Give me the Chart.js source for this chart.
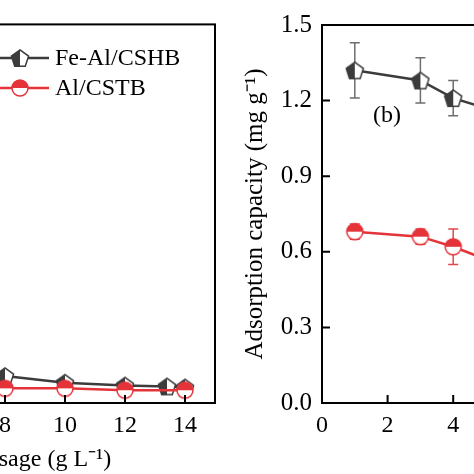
<!DOCTYPE html>
<html lang="en">
<head>
<meta charset="UTF-8" />
<title>Adsorption capacity</title>
<style>
  html, body { margin: 0; padding: 0; background: #fff; overflow: hidden; }
  #wrap { position: relative; width: 474px; height: 474px; overflow: hidden; background: #fff; }
  #boxA { position: absolute; left: -320px; top: 0; width: 560px; height: 474px; }
  #boxB { position: absolute; left: 240px; top: 0; width: 440px; height: 474px; }
</style>
</head>
<body>
<div id="wrap">
  <div id="boxA"><canvas id="chartA"></canvas></div>
  <div id="boxB"><canvas id="chartB"></canvas></div>
</div>
<script src="https://cdn.jsdelivr.net/npm/chart.js"></script>
<script>
// series names
const nameFe = 'Fe-Al/CSHB';
const nameAl = 'Al/CSTB';

// panel (a): capacity vs adsorbent dosage
const dosageFe = [1, 2, 4, 6, 8, 10, 12, 13.4, 14];
const capFeA   = [6.1, 3.6, 1.7, 0.95, 0.57, 0.43, 0.37, 0.35, 0.33];
const errFeA   = [0.3, 0.2, 0.1, 0.06, 0.05, 0.05, 0.05, 0.06, 0.05];
const dosageAl = [1, 2, 4, 6, 8, 10, 12, 14];
const capAlA   = [3.4, 1.8, 0.8, 0.45, 0.31, 0.31, 0.27, 0.27];
const errAlA   = [0.2, 0.1, 0.06, 0.05, 0.1, 0.12, 0.12, 0.1];
const ticksXA  = [0, 2, 4, 6, 8, 10, 12, 14];

// panel (b)
const xB      = [1, 3, 4, 6, 8, 10];
const capFeB  = [1.32, 1.28, 1.21, 1.13, 1.06, 1.0];
const errFeB  = [0.11, 0.09, 0.07, 0.05, 0.05, 0.05];
const capAlB  = [0.68, 0.66, 0.62, 0.52, 0.46, 0.42];
const errAlB  = [0.03, 0.03, 0.07, 0.04, 0.04, 0.04];
const ticksXB = [0, 2, 4, 6, 8, 10];
const ticksYB = [0, 0.3, 0.6, 0.9, 1.2, 1.5];

const serif = '"Liberation Serif", "Times New Roman", serif';
Chart.defaults.font.family = serif;
Chart.defaults.color = '#000';

const grayLine = '#3c3c3c';
const redLine = '#e5333a';

// half filled markers
function pentagonMark(fill, edge) {
  const c = document.createElement('canvas');
  c.width = 20; c.height = 20;
  const g = c.getContext('2d');
  const r = 9, cx = 10, cy = 10.9;
  g.beginPath();
  for (let i = 0; i < 5; i++) {
    const a = -Math.PI / 2 + i * 2 * Math.PI / 5;
    const px = cx + r * Math.cos(a), py = cy + r * Math.sin(a);
    if (i) g.lineTo(px, py); else g.moveTo(px, py);
  }
  g.closePath();
  g.fillStyle = '#fff';
  g.fill();
  g.save();
  g.clip();
  g.fillStyle = fill;
  g.fillRect(0, 0, cx, 20);
  g.restore();
  g.lineWidth = 1.5;
  g.strokeStyle = edge;
  g.stroke();
  return c;
}

function circleMark(fill, edge) {
  const c = document.createElement('canvas');
  c.width = 20; c.height = 20;
  const g = c.getContext('2d');
  g.beginPath();
  g.arc(10, 10, 8, 0, Math.PI * 2);
  g.fillStyle = '#fff';
  g.fill();
  g.save();
  g.clip();
  g.fillStyle = fill;
  g.fillRect(0, 0, 20, 10);
  g.restore();
  g.lineWidth = 1.5;
  g.strokeStyle = edge;
  g.stroke();
  return c;
}

const markFe = pentagonMark(grayLine, grayLine);
const markAl = circleMark(redLine, redLine);

function pts(xs, ys) {
  return xs.map((x, i) => ({ x: x, y: ys[i] }));
}

function makeSet(label, xs, ys, errs, color, errColor, mark, order) {
  return {
    label: label,
    data: pts(xs, ys),
    errors: errs,
    errorColor: errColor,
    borderColor: color,
    backgroundColor: color,
    borderWidth: 2.5,
    pointStyle: mark,
    pointRadius: 9,
    tension: 0,
    order: order
  };
}

// frame box plus inward tick marks
const framePlugin = {
  id: 'frame',
  afterDraw(chart) {
    const { ctx, chartArea: a } = chart;
    ctx.save();
    ctx.strokeStyle = '#000';
    ctx.lineWidth = 2;
    ctx.strokeRect(a.left, a.top, a.right - a.left, a.bottom - a.top);
    const sx = chart.scales.x, sy = chart.scales.y;
    ctx.beginPath();
    sx.ticks.forEach(t => {
      const px = sx.getPixelForValue(t.value);
      ctx.moveTo(px, a.bottom);
      ctx.lineTo(px, a.bottom - 8);
    });
    sy.ticks.forEach(t => {
      const py = sy.getPixelForValue(t.value);
      ctx.moveTo(a.left, py);
      ctx.lineTo(a.left + 8, py);
    });
    ctx.stroke();
    ctx.restore();
  }
};

// vertical error bars from each dataset's errors array
const errorPlugin = {
  id: 'errbars',
  beforeDatasetsDraw(chart) {
    const { ctx, chartArea: a } = chart;
    const sy = chart.scales.y;
    ctx.save();
    ctx.beginPath();
    ctx.rect(a.left, a.top, a.right - a.left, a.bottom - a.top);
    ctx.clip();
    chart.data.datasets.forEach((ds, i) => {
      const meta = chart.getDatasetMeta(i);
      ctx.strokeStyle = ds.errorColor;
      ctx.lineWidth = 1.5;
      meta.data.forEach((pt, j) => {
        const v = ds.data[j].y, e = ds.errors[j];
        const y1 = sy.getPixelForValue(v + e), y2 = sy.getPixelForValue(v - e);
        ctx.beginPath();
        ctx.moveTo(pt.x, y1); ctx.lineTo(pt.x, y2);
        ctx.moveTo(pt.x - 5, y1); ctx.lineTo(pt.x + 5, y1);
        ctx.moveTo(pt.x - 5, y2); ctx.lineTo(pt.x + 5, y2);
        ctx.stroke();
      });
    });
    ctx.restore();
  }
};

// legend drawn inside panel (a)
const legendPlugin = {
  id: 'innerLegend',
  afterDraw(chart) {
    const { ctx, chartArea: a } = chart;
    const rows = [58, 88];
    ctx.save();
    ctx.font = '24px ' + serif;
    ctx.textBaseline = 'middle';
    ctx.fillStyle = '#000';
    chart.data.datasets.forEach((ds, i) => {
      const y = rows[i];
      const x0 = a.left + 226;
      ctx.strokeStyle = ds.borderColor;
      ctx.lineWidth = 2.5;
      ctx.beginPath();
      ctx.moveTo(x0, y); ctx.lineTo(x0 + 58, y);
      ctx.stroke();
      const m = ds.pointStyle;
      ctx.drawImage(m, x0 + 29 - m.width / 2, y - m.height / 2);
      ctx.fillText(ds.label, x0 + 64, y + 1);
    });
    ctx.restore();
  }
};

const panelLabel = {
  id: 'panelLabel',
  afterDraw(chart) {
    const { ctx, chartArea: a } = chart;
    ctx.save();
    ctx.font = '24px ' + serif;
    ctx.fillStyle = '#000';
    ctx.textAlign = 'center';
    ctx.textBaseline = 'middle';
    ctx.fillText('(b)', a.left + 65, a.top + 91);
    ctx.restore();
  }
};

new Chart(document.getElementById('chartA'), {
  type: 'line',
  data: {
    datasets: [
      makeSet(nameFe, dosageFe, capFeA, errFeA, grayLine, '#6e6e6e', markFe, 1),
      makeSet(nameAl, dosageAl, capAlA, errAlA, redLine, '#e0474c', markAl, 0)
    ]
  },
  options: {
    responsive: true,
    maintainAspectRatio: false,
    animation: false,
    layout: { padding: { top: 10, right: 25, left: 0, bottom: 0 } },
    plugins: { legend: { display: false }, tooltip: { enabled: false } },
    scales: {
      x: {
        type: 'linear', min: 0, max: 15,
        afterBuildTicks: s => { s.ticks = ticksXA.map(v => ({ value: v })); },
        afterFit: s => { s.height = 71; },
        grid: { display: false, drawTicks: false },
        border: { display: false },
        ticks: { padding: 8, font: { size: 24 } },
        title: { display: true, text: 'Adsorbent dosage (g L⁻¹)', font: { size: 24 }, padding: 0 }
      },
      y: {
        type: 'linear', min: 0, max: 8,
        afterFit: s => { s.width = 85; },
        grid: { display: false, drawTicks: false },
        border: { display: false },
        ticks: { padding: 10, stepSize: 2, font: { size: 24 } }
      }
    }
  },
  plugins: [errorPlugin, framePlugin, legendPlugin]
});

new Chart(document.getElementById('chartB'), {
  type: 'line',
  data: {
    datasets: [
      makeSet(nameFe, xB, capFeB, errFeB, grayLine, '#6e6e6e', markFe, 1),
      makeSet(nameAl, xB, capAlB, errAlB, redLine, '#e0474c', markAl, 0)
    ]
  },
  options: {
    responsive: true,
    maintainAspectRatio: false,
    animation: false,
    layout: { padding: { top: 11, right: 30, left: 0, bottom: 0 } },
    plugins: { legend: { display: false }, tooltip: { enabled: false } },
    scales: {
      x: {
        type: 'linear', min: 0, max: 10,
        afterBuildTicks: s => { s.ticks = ticksXB.map(v => ({ value: v })); },
        afterFit: s => { s.height = 71; },
        grid: { display: false, drawTicks: false },
        border: { display: false },
        ticks: { padding: 8, font: { size: 24 } }
      },
      y: {
        type: 'linear', min: 0, max: 1.5,
        afterBuildTicks: s => { s.ticks = ticksYB.map(v => ({ value: v })); },
        afterFit: s => { s.width = 82; },
        grid: { display: false, drawTicks: false },
        border: { display: false },
        ticks: { padding: 10, font: { size: 25 }, callback: v => v.toFixed(1) },
        title: { display: true, text: 'Adsorption capacity (mg g⁻¹)', font: { size: 25 }, padding: 0 }
      }
    }
  },
  plugins: [errorPlugin, framePlugin, panelLabel]
});
</script>
</body>
</html>
